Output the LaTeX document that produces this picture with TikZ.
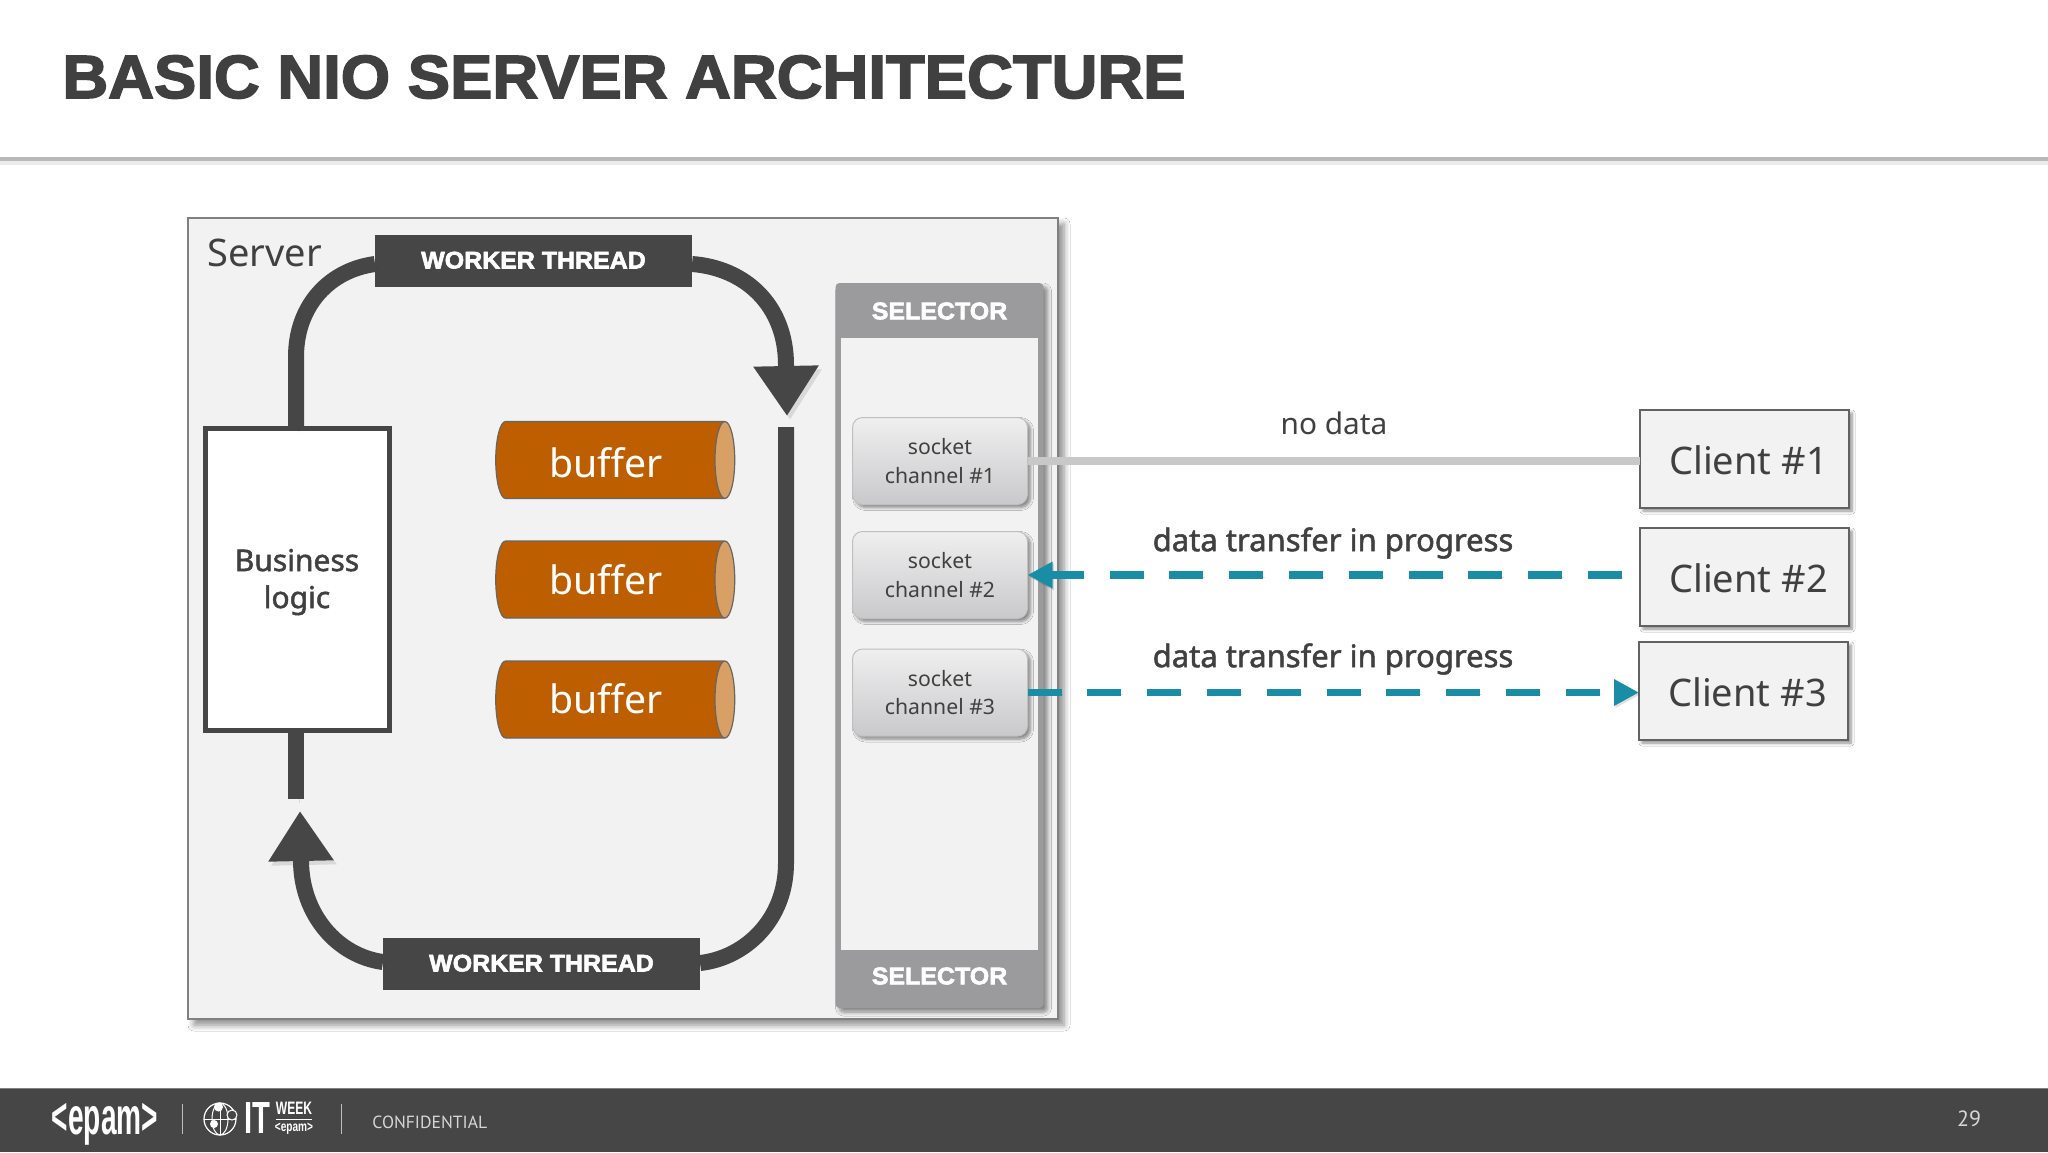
\documentclass[tikz,border=0pt]{standalone}
\usepackage{fontspec}
\setmainfont{Noto Sans}
\newfontfamily\heavy[FakeBold=2.6,FakeStretch=1.04]{Liberation Sans Bold}
\newfontfamily\liber{Liberation Sans Bold}
\newfontfamily\semib[FakeBold=1.6]{Noto Sans}
\newfontfamily\ptf{PT Sans}
\usetikzlibrary{arrows.meta,shapes.geometric,shadows.blur,calc}
\newcommand\nudge[2]{\raisebox{#1}[\height][\depth]{#2}}
\definecolor{dark}{HTML}{464646}
\definecolor{txt}{HTML}{404040}
\definecolor{panel}{HTML}{F2F2F2}
\definecolor{selgray}{HTML}{9B9A9C}
\definecolor{orangeb}{HTML}{BD5F00}
\definecolor{orangee}{HTML}{D9A066}
\definecolor{tealc}{HTML}{1A8DA6}
\definecolor{linegray}{HTML}{C8C8C8}
\definecolor{EEtop}{HTML}{EFEFF0}
\definecolor{EEbot}{HTML}{C9C9CB}
\tikzset{
  softshadow/.style={blur shadow={shadow xshift=#1,shadow yshift=-#1,shadow blur radius=#1,shadow opacity=45,shadow blur steps=6}},
  softshadow/.default=2pt,
  plain/.style={inner sep=0pt,outer sep=0pt,rectangle},
  flow/.style={draw=dark,line width=8pt,line cap=butt,preaction={draw=black,draw opacity=.10,transform canvas={shift={(1.5pt,-2pt)}}}},
  bigtip/.style={-{Triangle[length=25pt,width=31pt]}},
  workerbox/.style={plain,fill=dark,text=white,minimum width=158.5pt,minimum height=26pt,font=\heavy\fontsize{12}{14}\selectfont},
  selhead/.style={plain,text=white,font=\heavy\fontsize{12}{14}\selectfont},
  bufferc/.style={shape=cylinder,shape aspect=.65,draw=txt!80,line width=.6pt,cylinder uses custom fill,cylinder body fill=orangeb,cylinder end fill=orangee,minimum height=119.5pt,minimum width=38.5pt,inner sep=0pt,outer sep=0pt,text=white,font=\fontsize{19.6}{22}\selectfont},
  socketbox/.style={plain,rounded corners=5pt,draw=gray!50,line width=.5pt,top color=EEtop,bottom color=EEbot,minimum width=87.5pt,minimum height=43.5pt,align=center,text=txt,font=\fontsize{10.6}{14.3}\selectfont,softshadow=1.5pt},
  clientbox/.style={plain,draw=dark!85,line width=1.2pt,fill=panel,minimum width=104.5pt,minimum height=49pt,text=txt,font=\fontsize{19}{21}\selectfont,softshadow=1.5pt},
  lab/.style={inner sep=0pt,text=txt,font=\fontsize{14.9}{17}\selectfont},
  labb/.style={inner sep=0pt,text=txt,font=\semib\fontsize{15.5}{17}\selectfont},
  tealflow/.style={draw=tealc,line width=3.6pt,dash pattern=on 17pt off 12.9pt,-{Triangle[length=12.5pt,width=12.5pt]},preaction={draw=black,draw opacity=.12,dash pattern=on 17pt off 12.9pt,transform canvas={shift={(.7pt,-1pt)}}}},
  logo/.style={inner sep=0pt,text=white},
  sepline/.style={draw=white!65!dark,line width=.5pt},
}
\begin{document}
\begin{tikzpicture}[x=0.5pt,y=-0.5pt]
\useasboundingbox (0,0) rectangle (2048,1152);
\fill[white] (0,0) rectangle (2048,1152);
% header
\node[inner sep=0pt,anchor=west,text=txt,font=\heavy\fontsize{30.5}{34}\selectfont] (title) at (62,77) {BASIC NIO SERVER ARCHITECTURE};
\fill[black!8] (0,160) rectangle (2048,165);
\fill[black!28] (0,157) rectangle (2048,161);
% footer
\fill[dark] (0,1088) rectangle (2048,1152);
\draw[gray,line width=.4pt] (0,1088) -- (2048,1088);
% server
\node[plain,draw=gray,line width=1.1pt,fill=panel,minimum width=435pt,minimum height=400.5pt,softshadow=3pt] (server) at (623,618.5) {};
\node[inner sep=0pt,text=txt,font=\fontsize{19}{22}\selectfont] (srv) at (264.5,253) {Server};
% selector
\node[plain,rounded corners=2pt,fill=selgray,minimum width=104pt,minimum height=362.5pt,softshadow=2pt] (selector) at (939.5,645.5) {};
\node[plain,fill=panel,minimum width=98.5pt,minimum height=306pt] (selinner) at (939.5,644) {};
\node[selhead] (sel1) at (939.5,311) {SELECTOR};
\node[selhead] (sel2) at (939.5,976) {SELECTOR};
% sockets
\node[socketbox] (s1) at (940,461) {socket\\channel \#1};
\node[socketbox] (s2) at (940,575) {socket\\channel \#2};
\node[socketbox] (s3) at (940,692.5) {socket\\channel \#3};
% clients
\node[clientbox] (c1) at (1744.5,459) {\hspace*{4pt}\nudge{-.7pt}{Client \#1}};
\node[clientbox] (c2) at (1744.5,577) {\hspace*{4pt}\nudge{-.7pt}{Client \#2}};
\node[clientbox] (c3) at (1743.5,691) {\hspace*{4pt}\nudge{-.7pt}{Client \#3}};
% business logic
\node[plain,draw=dark,line width=2.5pt,fill=white,minimum width=92pt,minimum height=151pt,align=center,text=txt,font=\semib\fontsize{15}{18.5}\selectfont] (biz) at (297,579.5) {\nudge{-1.3pt}{Business}\\\nudge{-1.3pt}{logic}};
% worker boxes
\node[workerbox] (w1) at (533.5,261) {\nudge{.4pt}{WORKER THREAD}};
\node[workerbox] (w2) at (541.5,964) {\nudge{.4pt}{WORKER THREAD}};
% flow
\coordinate (tipa) at (787,416);
\coordinate (tipb) at (300,811);
\coordinate (stemtop) at (786,427);
\coordinate (stemend) at (296,799);
\draw[flow] (biz.north -| stemend) -- (296,357) .. controls (296,305) and (330,270) .. (w1.west |- 0,264);
\draw[flow,bigtip] (w1.east |- 0,264) .. controls (745,268) and (786,305) .. (786,365) -- (tipa);
\draw[flow] (stemtop) -- (786,863) .. controls (786,920) and (745,958) .. (w2.east |- 0,963);
\draw[flow,bigtip] (w2.west |- 0,962) .. controls (338,956) and (301,915) .. (301,860) -- (tipb);
\draw[flow] (biz.south -| stemend) -- (stemend);
% buffers
\node[bufferc] (b1) at (610,460) {\hspace*{-4pt}\nudge{-1.3pt}{buffer}};
\node[bufferc] (b2) at (610,579.5) {\hspace*{-4pt}buffer};
\node[bufferc] (b3) at (610,699.5) {\hspace*{-4pt}\nudge{.6pt}{buffer}};
% connectors
\draw[draw=linegray,line width=3.6pt,preaction={draw=black,draw opacity=.1,transform canvas={shift={(.5pt,-1pt)}}}] (s1.east) -- (c1.west |- s1.east);
\draw[tealflow,shorten <=9pt] (c2.west |- s2.east) -- (s2.east);
\draw[tealflow] (s3.east) -- (c3.west |- s3.east);
\node[lab] (l1) at (1334,423) {no data};
\node[labb] (l2) at (1333,543) {data transfer in progress};
\node[labb] (l3) at (1333,659) {data transfer in progress};
% footer content
\node[logo,font=\liber\fontsize{26}{27}\selectfont] (epam) at (105,1124) {\scalebox{.54}[1]{<epam>}};
\draw[sepline] (182,1104) -- (182,1134);
\draw[white,line width=.6pt] (220,1119) circle[radius=16];
\draw[white,line width=.5pt] (204,1119) -- (236,1119) (220,1103) -- (220,1135);
\draw[white,line width=.5pt] (220,1119) ellipse[x radius=8,y radius=16];
\fill[white] (218.5,1107) circle[radius=4.5];
\fill[white] (214,1124) circle[radius=4];
\draw[white,fill=dark,line width=.5pt] (232,1115) circle[radius=5];
\node[logo,font=\liber\fontsize{22.5}{24}\selectfont] (it) at (257,1118) {\scalebox{.65}[1]{IT}};
\node[logo,font=\liber\fontsize{9}{10}\selectfont] (week) at (294,1108.5) {\scalebox{.67}[1]{WEEK}};
\draw[white,line width=.5pt] (276,1119) -- (312,1119);
\node[logo,font=\liber\fontsize{7}{8}\selectfont] (ep2) at (294,1129) {\scalebox{.72}[1]{<epam>}};
\draw[sepline] (341,1104) -- (341,1134);
\node[inner sep=0pt,anchor=west,text=white!78!dark,font=\ptf\fontsize{8.8}{10}\selectfont] (conf) at (372,1122) {CONFIDENTIAL};
\node[inner sep=0pt,text=white!78!dark,font=\ptf\fontsize{11}{12}\selectfont] (pg) at (1969,1119) {29};
\end{tikzpicture}
\end{document}
